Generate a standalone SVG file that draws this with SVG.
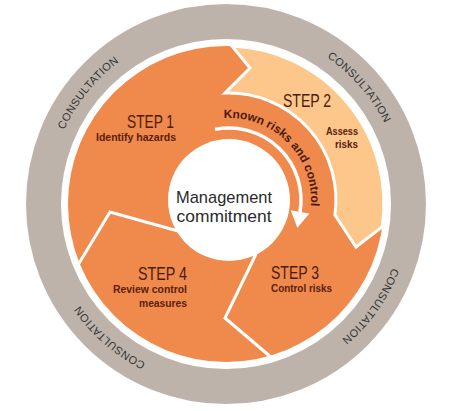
<svg xmlns="http://www.w3.org/2000/svg" width="457" height="411" viewBox="0 0 457 411">
<style>
.step{font-family:"Liberation Sans",Arial,sans-serif;font-size:18px;fill:#4a1b0d}
.sub{font-family:"Liberation Sans",Arial,sans-serif;font-size:11px;font-weight:bold;fill:#5a200e}
.cons{font-family:"Liberation Sans",Arial,sans-serif;font-size:11px;fill:#333333;letter-spacing:0.4px}
.known{font-family:"Liberation Sans",Arial,sans-serif;font-size:12px;font-weight:bold;fill:#4a1b0d}
.mc{font-family:"Liberation Sans",Arial,sans-serif;font-size:17px;fill:#2b2b2b;text-anchor:middle}
.sep{fill:none;stroke:#ffffff;stroke-width:3;stroke-linejoin:miter}
</style>
<defs>
<path id="consPath" d="M404,204 A178,178 0 1 1 48,204 A178,178 0 1 1 404,204"/>
<path id="knownPath" d="M147,200 A82,82 0 1 1 311,200 A82,82 0 1 1 147,200"/>
</defs>
<rect width="457" height="411" fill="#ffffff"/>
<g id="consultation">
<circle cx="226" cy="204" r="182.5" fill="none" stroke="#BEB3AB" stroke-width="35"/>
<text class="cons"><textPath href="#consPath" startOffset="679.7" text-anchor="middle">CONSULTATION</textPath></text>
<text class="cons"><textPath href="#consPath" startOffset="990" text-anchor="middle">CONSULTATION</textPath></text>
<text class="cons"><textPath href="#consPath" startOffset="109.5" text-anchor="middle">CONSULTATION</textPath></text>
<text class="cons"><textPath href="#consPath" startOffset="407" text-anchor="middle">CONSULTATION</textPath></text>
</g>
<g id="step1">
<circle cx="226" cy="204" r="158" fill="#F0894C"/>
<text class="step" x="174" y="127.5" text-anchor="end" textLength="47" lengthAdjust="spacingAndGlyphs">STEP 1</text>
<text class="sub" x="176" y="140.5" text-anchor="end" textLength="80" lengthAdjust="spacingAndGlyphs">Identify hazards</text>
</g>
<g id="step2">
<path d="M232.1,46.1 A158,158 0 0 1 382.3,226.8 L356,247 L334.9,215 A107,107 0 0 0 224.9,93.1 L250,68 Z" fill="#FDC68A" stroke="#ffffff" stroke-width="3" stroke-linejoin="miter"/>
<text class="step" x="283" y="107" textLength="48" lengthAdjust="spacingAndGlyphs">STEP 2</text>
<text class="sub" x="358" y="135" text-anchor="end" textLength="32" lengthAdjust="spacingAndGlyphs">Assess</text>
<text class="sub" x="358" y="148" text-anchor="end" textLength="23" lengthAdjust="spacingAndGlyphs">risks</text>
</g>
<g id="connectors">
<polyline class="sep" points="256,254 225,318 272,358"/>
<polyline class="sep" points="78,265 110,212 178,231"/>
</g>
<g id="step3">
<text class="step" x="271" y="279" textLength="48" lengthAdjust="spacingAndGlyphs">STEP 3</text>
<text class="sub" x="271" y="292" textLength="61" lengthAdjust="spacingAndGlyphs">Control risks</text>
</g>
<g id="step4">
<text class="step" x="187" y="280" text-anchor="end" textLength="49" lengthAdjust="spacingAndGlyphs">STEP 4</text>
<text class="sub" x="187" y="293" text-anchor="end" textLength="74" lengthAdjust="spacingAndGlyphs">Review control</text>
<text class="sub" x="187" y="307" text-anchor="end" textLength="48" lengthAdjust="spacingAndGlyphs">measures</text>
</g>
<g id="known-risks">
<path d="M215,129.4 A72,72 0 0 1 300,211.9" fill="none" stroke="#ffffff" stroke-width="3.5"/>
<polygon points="309.4,213.5 290.6,210.3 297.4,227.7" fill="#ffffff"/>
<text class="known"><textPath href="#knownPath" startOffset="123.2">Known</textPath></text>
<text class="known"><textPath href="#knownPath" startOffset="166.5">risks</textPath></text>
<text class="known"><textPath href="#knownPath" startOffset="197.9">and</textPath></text>
<text class="known"><textPath href="#knownPath" startOffset="222.6">control</textPath></text>
</g>
<g id="management">
<circle cx="229" cy="200" r="61" fill="#ffffff"/>
<text class="mc" x="224" y="203" textLength="96" lengthAdjust="spacingAndGlyphs">Management</text>
<text class="mc" x="224" y="222" textLength="95" lengthAdjust="spacingAndGlyphs">commitment</text>
</g>
</svg>
